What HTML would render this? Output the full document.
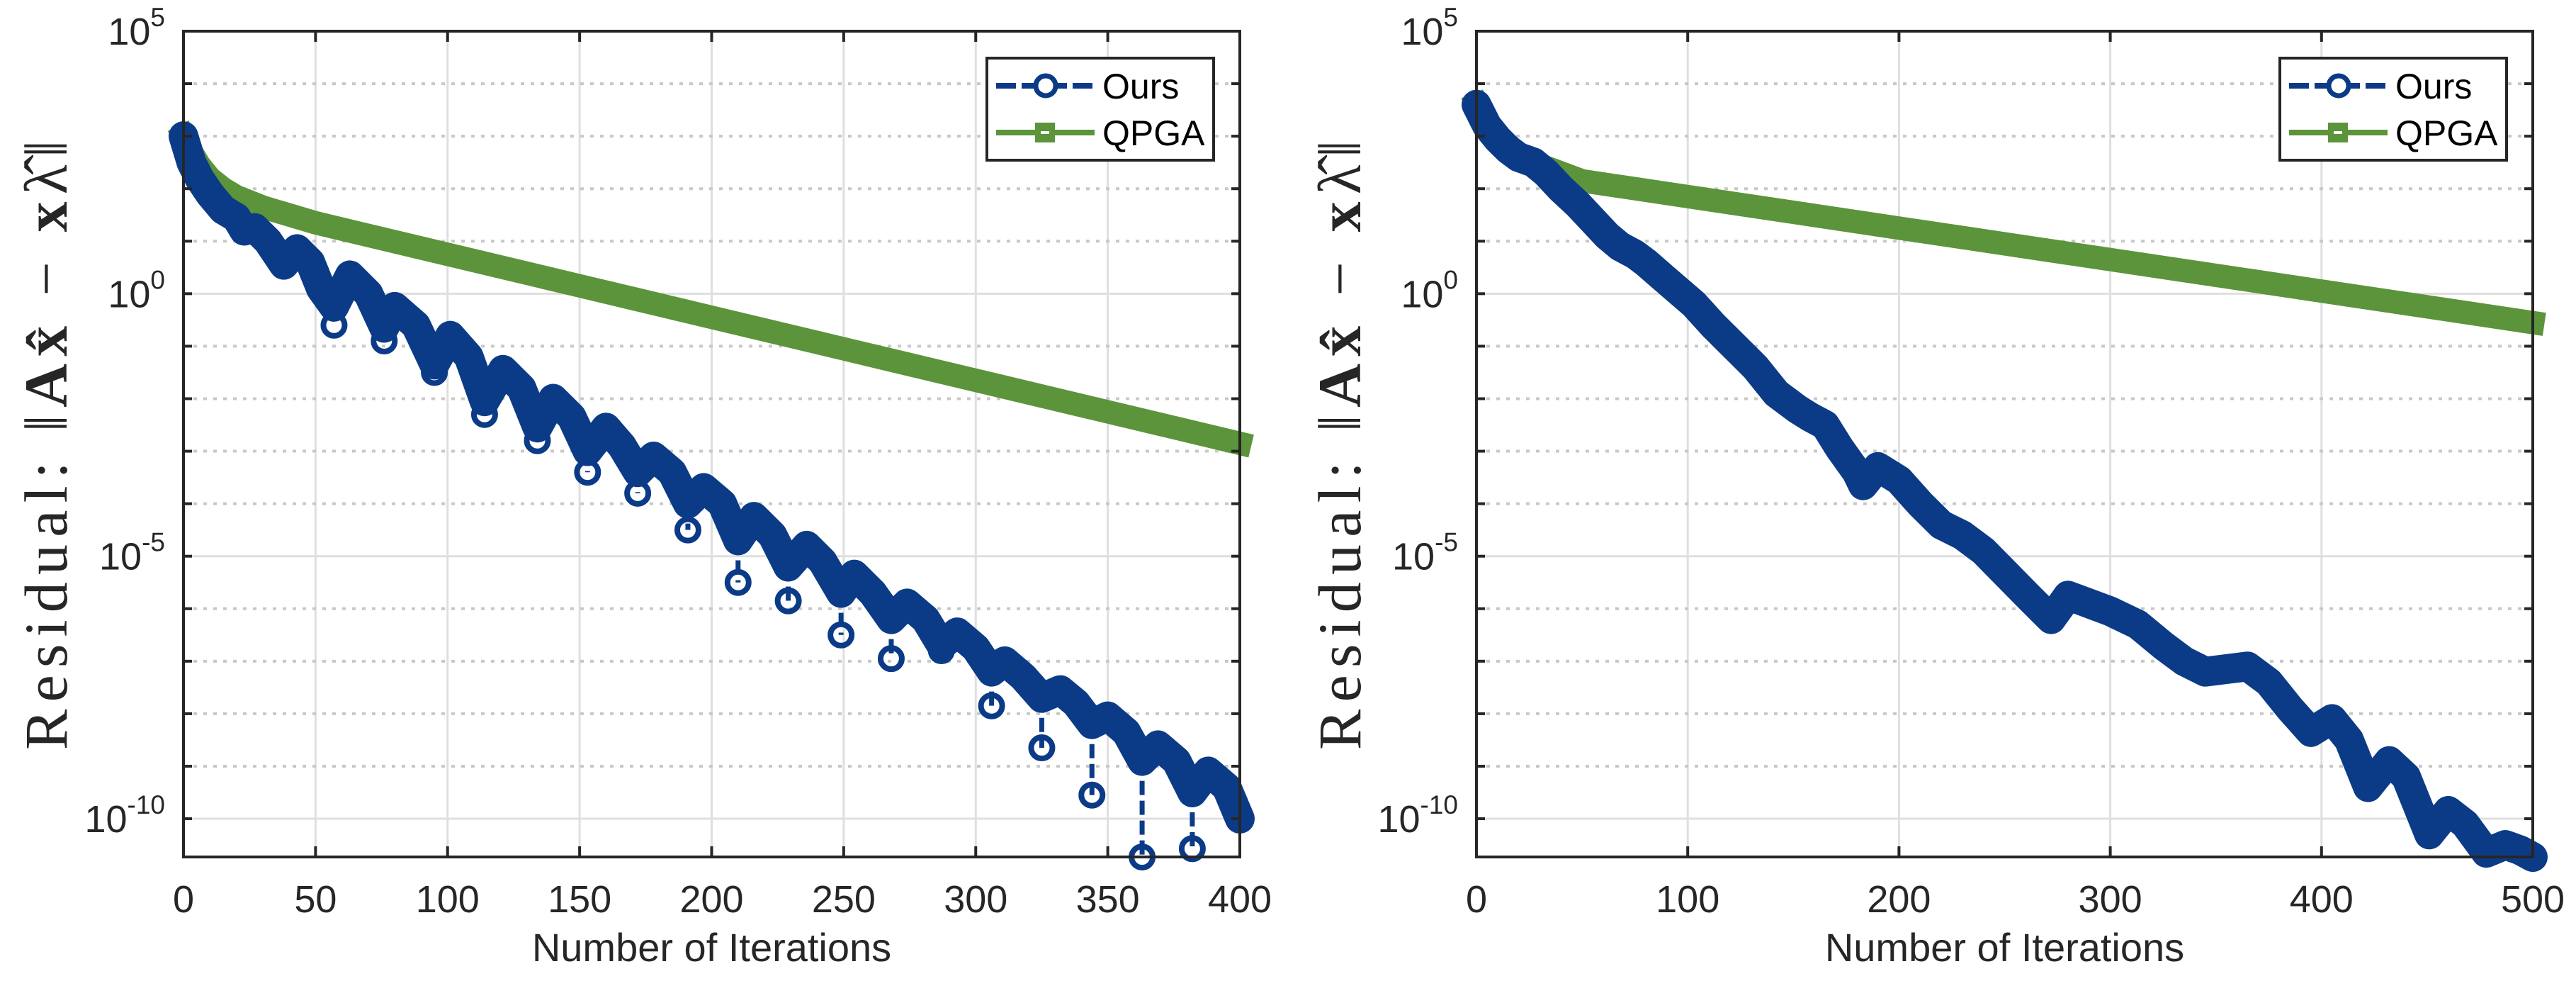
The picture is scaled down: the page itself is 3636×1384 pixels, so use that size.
<!DOCTYPE html>
<html><head><meta charset="utf-8"><style>
html,body{margin:0;padding:0;background:#fff;}
svg{display:block;}
text{font-family:"Liberation Sans",sans-serif;fill:#262626;}
</style></head><body>
<svg id="fig" xmlns="http://www.w3.org/2000/svg" width="3636" height="1384" viewBox="0 0 3636 1384"></svg>
<script>
// ---------- data (log10 residual) ----------
const leftOursIters = [0,3,6,10,15,20,23,27,32,38,43,48,52,57,63,70,76,80,88,95,101,108,114,121,128,134,140,147,153,160,166,172,178,185,191,197,204,210,216,223,229,236,242,249,254,261,268,274,281,287,293,300,306,311,318,325,332,338,344,350,357,363,369,376,382,388,395,400];
const leftOursLog = [3.0,2.5,2.2,1.9,1.6,1.45,1.2,1.25,1.0,0.55,0.85,0.6,0.1,-0.25,0.35,0.0,-0.65,-0.25,-0.6,-1.35,-0.8,-1.2,-2.05,-1.45,-1.8,-2.55,-2.0,-2.35,-3.0,-2.55,-2.9,-3.4,-3.1,-3.4,-4.0,-3.7,-4.0,-4.7,-4.25,-4.6,-5.2,-4.8,-5.1,-5.7,-5.35,-5.7,-6.2,-5.9,-6.2,-6.7,-6.45,-6.75,-7.2,-7.0,-7.3,-7.7,-7.55,-7.8,-8.2,-8.05,-8.35,-8.9,-8.6,-8.9,-9.5,-9.1,-9.4,-10.0];
const leftDipIters = [57,76,95,114,134,153,172,191,210,229,249,268,287,306,325,344,363,382];
const leftDipLog = [-0.6,-0.9,-1.5,-2.3,-2.8,-3.4,-3.8,-4.5,-5.5,-5.85,-6.5,-6.95,-6.8,-7.85,-8.65,-9.55,-10.73,-10.57];
const leftQpgaIters = [0,3,6,10,15,20,30,40,50,100,150,200,250,300,350,400];
const leftQpgaLog = [3.0,2.7,2.45,2.2,2.0,1.85,1.65,1.5,1.35,0.75,0.15,-0.45,-1.05,-1.65,-2.25,-2.85];

const rightOursIters = [0,5,10,15,20,27,33,40,48,55,62,68,75,80,90,103,112,122,132,142,152,158,165,172,180,183,190,200,210,220,230,240,251,262,272,280,290,300,313,325,335,345,355,365,375,385,395,405,413,422,432,440,451,460,468,478,487,494,500];
const rightOursLog = [3.6,3.2,2.95,2.75,2.6,2.5,2.3,2.0,1.7,1.4,1.1,0.9,0.75,0.6,0.25,-0.2,-0.6,-1.0,-1.4,-1.9,-2.2,-2.35,-2.5,-2.95,-3.4,-3.65,-3.3,-3.55,-4.0,-4.4,-4.6,-4.9,-5.35,-5.8,-6.2,-5.75,-5.9,-6.05,-6.3,-6.7,-7.0,-7.2,-7.15,-7.1,-7.4,-7.9,-8.35,-8.1,-8.5,-9.4,-8.9,-9.2,-10.3,-9.85,-10.1,-10.65,-10.5,-10.6,-10.73];
const rightQpgaIters = [0,3,6,10,15,20,30,40,50,100,200,300,400,500];
const rightQpgaLog = [3.6,3.3,3.05,2.9,2.75,2.65,2.45,2.3,2.15,1.85,1.25,0.65,0.05,-0.55];

const leftXTicks = [0,50,100,150,200,250,300,350,400];
const rightXTicks = [0,100,200,300,400,500];
const yMajor = [5,0,-5,-10];
const yMinor = [4,3,2,1,-1,-2,-3,-4,-6,-7,-8,-9];

// ---------- drawing ----------
const NS = "http://www.w3.org/2000/svg";
const svg = document.getElementById('fig');
function mk(tag, attrs, parent){
  const e = document.createElementNS(NS, tag);
  for (const k in attrs) e.setAttribute(k, attrs[k]);
  (parent||svg).appendChild(e);
  return e;
}
const BLUE = "#0b3b87", GREEN = "#5b943a";

function panel(cfg){
  const g = mk('g', {});
  
  
  const L=cfg.x0, R=cfg.x1, T=44, B=1209;
  const xs = v => L + (v - 0) / cfg.xmax * (R - L);
  const ys = lg => T + (5 - lg) * 74.07;
  // grid
  cfg.xticks.forEach(t=>{
    const l = mk('line',{x1:xs(t),x2:xs(t),y1:T,y2:B,stroke:"#dfdfdf","stroke-width":3},g);
    
    
  });
  yMajor.forEach(t=>{
    const l = mk('line',{x1:L,x2:R,y1:ys(t),y2:ys(t),stroke:"#dfdfdf","stroke-width":3},g);
    
    
  });
  yMinor.forEach(t=>{
    const l = mk('line',{x1:L,x2:R,y1:ys(t),y2:ys(t),stroke:"#c8c8c8","stroke-width":4,"stroke-dasharray":"5 9"},g);
    
    
  });
  // QPGA band
  const qp = cfg.qIters.map((it,i)=>xs(it)+","+ys(cfg.qLog[i])).join(" ");
  const qline = mk('polyline',{points:qp,fill:"none",stroke:GREEN,"stroke-width":33,"stroke-linejoin":"round","stroke-linecap":"square"},g);
  
  
  // dips (connectors under band)
  if (cfg.dIters){
    cfg.dIters.forEach((it,i)=>{
      const j = cfg.oIters.indexOf(it);
      const yb = j>=0 ? ys(cfg.oLog[j]) : ys(cfg.dLog[i]);
      const dl = mk('line',{x1:xs(it),x2:xs(it),y1:yb,y2:ys(cfg.dLog[i]),stroke:BLUE,"stroke-width":7,"stroke-dasharray":"20 8"},g);
      
      
      const c = mk('circle',{cx:xs(it),cy:ys(cfg.dLog[i]),r:15,fill:"none",stroke:BLUE,"stroke-width":8},g);
      
      
    });
  }
  // Ours band
  const op = cfg.oIters.map((it,i)=>xs(it)+","+ys(cfg.oLog[i])).join(" ");
  const oline = mk('polyline',{points:op,fill:"none",stroke:BLUE,"stroke-width":42,"stroke-linejoin":"round","stroke-linecap":"round"},g);
  
  
  // axes box
  const box = mk('rect',{x:L,y:T,width:R-L,height:B-T,fill:"none",stroke:"#262626","stroke-width":4},g);
  
  
  // x ticks + labels
  cfg.xticks.forEach(t=>{
    mk('line',{x1:xs(t),x2:xs(t),y1:B,y2:B-15,stroke:"#262626","stroke-width":4},g);
    mk('line',{x1:xs(t),x2:xs(t),y1:T,y2:T+15,stroke:"#262626","stroke-width":4},g);
    const tx = mk('text',{x:xs(t),y:1287,"font-size":54,"text-anchor":"middle"},g);
    tx.textContent = t;
    
    
  });
  // y ticks
  yMajor.concat(yMinor).forEach(t=>{
    mk('line',{x1:L,x2:L+12,y1:ys(t),y2:ys(t),stroke:"#262626","stroke-width":4},g);
    mk('line',{x1:R,x2:R-12,y1:ys(t),y2:ys(t),stroke:"#262626","stroke-width":4},g);
  });
  yMajor.forEach(t=>{
    const tx = mk('text',{x:L-26,y:ys(t)+19,"font-size":54,"text-anchor":"end"},g);
    
    
    const a = mk('tspan',{},tx); a.textContent="10";
    const b = mk('tspan',{dy:-26,"font-size":37},tx); b.textContent=String(t);
  });
  // x label
  const xl = mk('text',{x:(L+R)/2,y:1356,"font-size":56,"text-anchor":"middle"},g);
  xl.textContent = "Number of Iterations";
  
  
  // y label
  const yl = mk('text',{x:0,y:0,"font-size":86,"text-anchor":"middle",textLength:860,lengthAdjust:"spacing",transform:`translate(${cfg.ylx},628) rotate(-90)`,style:'font-family:"Liberation Serif",serif'},g);
  
  
  const s1 = mk('tspan',{},yl); s1.textContent="Residual: ‖";
  const s2 = mk('tspan',{"font-weight":"bold"},yl); s2.textContent="Ax̂";
  const s3 = mk('tspan',{},yl); s3.textContent=" − ";
  const s4 = mk('tspan',{"font-weight":"bold"},yl); s4.textContent="x";
  const s5 = mk('tspan',{},yl); s5.textContent="λ̂‖";
  // legend
  const lx = R-357, ly = 82;
  const lg = mk('g',{},g);
  
  
  mk('rect',{x:lx,y:ly,width:320,height:144,fill:"#fff",stroke:"#262626","stroke-width":4},lg);
  const e1 = mk('g',{},lg);
  
  
  mk('line',{x1:lx+13,x2:lx+152,y1:ly+39,y2:ly+39,stroke:BLUE,"stroke-width":8,"stroke-dasharray":"28 8"},e1);
  mk('circle',{cx:lx+83,cy:ly+39,r:14,fill:"#fff",stroke:BLUE,"stroke-width":7},e1);
  const t1 = mk('text',{x:lx+163,y:ly+57,"font-size":50,style:"fill:#000"},e1); t1.textContent="Ours";
  const e2 = mk('g',{},lg);
  
  
  mk('line',{x1:lx+13,x2:lx+152,y1:ly+105,y2:ly+105,stroke:GREEN,"stroke-width":8},e2);
  mk('rect',{x:lx+68,y:ly+91,width:28,height:28,fill:GREEN},e2);
  mk('rect',{x:lx+76,y:ly+103,width:12,height:4,fill:"#fff"},e2);
  const t2 = mk('text',{x:lx+163,y:ly+123,"font-size":50,style:"fill:#000"},e2); t2.textContent="QPGA";
}

panel({name:'left-chart',x0:259,x1:1750,xmax:400,xticks:leftXTicks,ylx:94,
  oIters:leftOursIters,oLog:leftOursLog,dIters:leftDipIters,dLog:leftDipLog,
  qIters:leftQpgaIters,qLog:leftQpgaLog});
panel({name:'right-chart',x0:2084,x1:3575,xmax:500,xticks:rightXTicks,ylx:1920,
  oIters:rightOursIters,oLog:rightOursLog,
  qIters:rightQpgaIters,qLog:rightQpgaLog});
</script>
</body></html>
